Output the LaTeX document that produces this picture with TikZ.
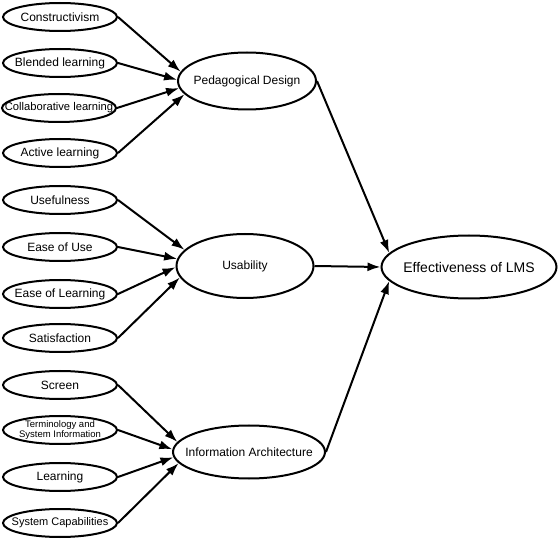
\documentclass[tikz,border=0pt]{standalone}
\usepackage{fontspec}
\setmainfont{Liberation Sans}
\usetikzlibrary{shapes.geometric,arrows.meta}

\begin{document}
\begin{tikzpicture}[x=1pt,y=1pt,line width=2pt,>={Latex[length=13pt,width=9pt]},
  leaf/.style={ellipse,draw,minimum width=114pt,minimum height=28pt,inner sep=0pt},
  hub/.style={ellipse,draw,inner sep=0pt},
  every label/.style={font=\fontsize{12}{14}\selectfont,inner sep=0pt,align=center}]
\useasboundingbox (0,0) rectangle (558,542);
%\draw[help lines] (0,0) grid[step=50] (558,542);
% pedagogical design
\node[leaf,label=center:Constructivism] (con) at (60,525) {};
\node[leaf,label=center:Blended learning] (bl) at (60,479) {};
\node[leaf,label={[font=\fontsize{11.2}{13}\selectfont]center:Collaborative learning}] (col) at (59,434) {};
\node[leaf,label=center:Active learning] (act) at (60,389) {};
\node[hub,minimum width=138pt,minimum height=57pt,label=center:Pedagogical Design] (pd) at (247,461) {};
% usability
\node[leaf,label=center:Usefulness] (use) at (60,342) {};
\node[leaf,label=center:Ease of Use] (eou) at (60,295) {};
\node[leaf,label=center:Ease of Learning] (eol) at (60,248) {};
\node[leaf,label=center:Satisfaction] (sat) at (60,204) {};
\node[hub,minimum width=137pt,minimum height=64pt,label=center:Usability] (usa) at (245,276) {};
% information architecture
\node[leaf,label=center:Screen] (scr) at (60,157) {};
\node[leaf,label={[font=\fontsize{9.5}{10.5}\selectfont]center:Terminology and\\System Information}] (ter) at (60,112) {};
\node[leaf,label=center:Learning] (lea) at (60,65) {};
\node[leaf,label={[font=\fontsize{11}{13}\selectfont]center:System Capabilities}] (sys) at (60,19) {};
\node[hub,minimum width=152pt,minimum height=53pt,label=center:Information Architecture] (ia) at (249,90) {};
% outcome
\node[hub,minimum width=175pt,minimum height=63pt,label={[font=\fontsize{14}{16}\selectfont]center:Effectiveness of LMS}] (eff) at (469,275) {};

\foreach \a/\b in {con/172,bl/179,col/186,act/192} \draw[->] (\a.east) -- (pd.\b);
\foreach \a/\b in {use/165,eou/174,eol/181,sat/190} \draw[->] (\a.east) -- (usa.\b);
\foreach \a/\b in {scr/172,ter/178,lea/184,sys/189} \draw[->] (\a.east) -- (ia.\b);
\draw[->] (pd.east) -- (eff.170);
\draw[->] (usa.east) -- (eff.west);
\draw[->] (ia.east) -- (eff.190);
\end{tikzpicture}
\end{document}
